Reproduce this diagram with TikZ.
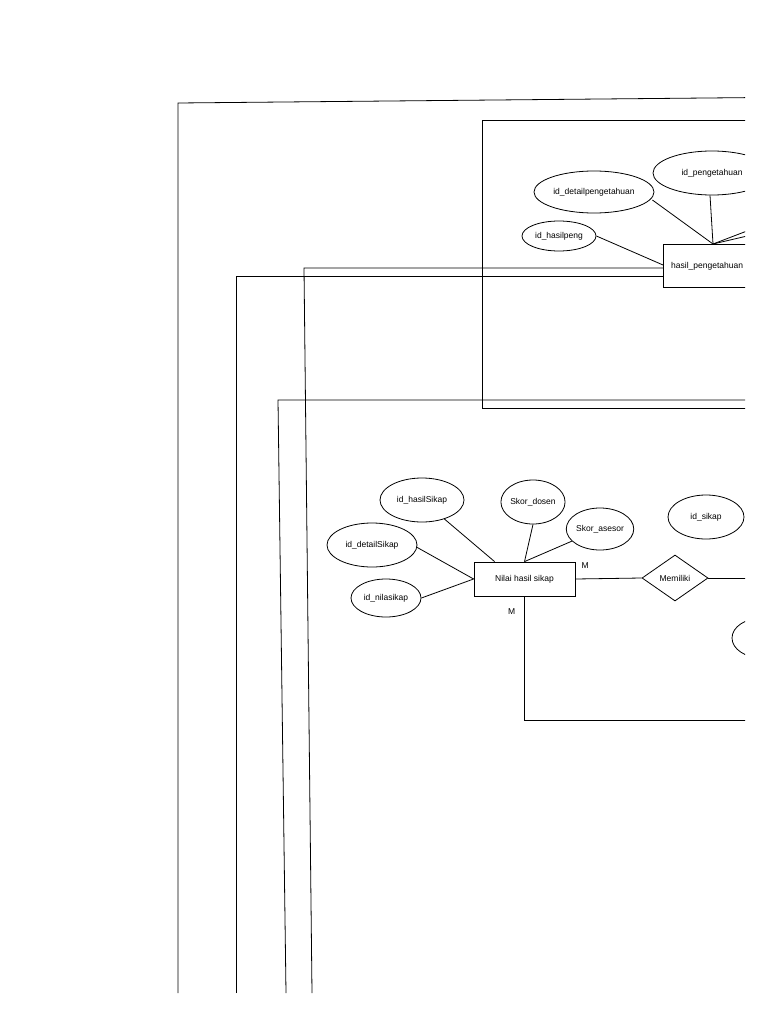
\documentclass[tikz,border=0pt]{standalone}
\usepackage{fontspec}
\setmainfont{Liberation Sans}
\usetikzlibrary{shapes.geometric,calc}
\begin{document}
\begin{tikzpicture}[x=1pt,y=-1pt,line width=0.8pt,
  attr/.style={draw,ellipse,inner sep=0pt,font=\fontsize{8.5}{10}\selectfont},
  ent/.style={draw,rectangle,inner sep=0pt,font=\fontsize{8.5}{10}\selectfont},
  rel/.style={draw,diamond,aspect=1.45,inner sep=1pt,font=\fontsize{8.5}{10}\selectfont},
  lbl/.style={font=\fontsize{8.5}{10}\selectfont}]
\useasboundingbox (0,0) rectangle (768,1024);
\begin{scope}
\clip (0,0) rectangle (745,993);
% frames
\draw (178,993) -- (178,103) -- (760,97.5);
\draw (482,408) -- (482,120) -- (760,120);
\draw (482,408) -- (760,408);
\draw (286,993) -- (278,400) -- (760,400);
% entity top
\node[ent,minimum width=100,minimum height=43,anchor=north west,text width=90,align=left] (hp) at (663,244) {\ hasil\_pengetahuan};
\node[attr,minimum width=118,minimum height=44] (ip) at (712,173) {id\_pengetahuan};
\node[attr,minimum width=120,minimum height=42] (idp) at (594,192) {id\_detailpengetahuan};
\node[attr,minimum width=74,minimum height=30] (ihp) at (559,236) {id\_hasilpeng};
\coordinate (hpt) at (713,244);
\coordinate (hpl) at (663,265);
\coordinate (r1) at (760,226);
\coordinate (r2) at (760,233);
\draw ($(ip.south)+(-2,0)$) -- (hpt);
\draw ($(idp.east)+(-2,8)$) -- (hpt);
\draw (ihp.east) -- (hpl);
\draw (hpt) -- (r1);
\draw (hpt) -- (r2);
\draw (236,993) -- (236,276) -- (hp.west |- 0,276);
\draw (312,993) -- (304,268) -- (hp.west |- 0,268);
% lower
\node[ent,minimum width=101,minimum height=34] (nhs) at (524.5,579) {Nilai hasil sikap};
\node[attr,minimum width=84,minimum height=44] (ihs) at (422,500) {id\_hasilSikap};
\node[attr,minimum width=62,minimum height=44] (sd) at (533,502) {Skor\_dosen};
\node[attr,minimum width=66,minimum height=42] (sa) at (600,529) {Skor\_asesor};
\node[attr,minimum width=90,minimum height=44] (ids) at (372,545) {id\_detailSikap};
\node[attr,minimum width=70,minimum height=38] (ins) at (386,598) {id\_nilasikap};
\node[attr,minimum width=76,minimum height=44] (isk) at (706,517) {id\_sikap};
\node[rel,minimum width=66,minimum height=46] (mem) at (675,578) {Memiliki};
\node[attr,minimum width=60,minimum height=40] (pe) at (762,638) {};
\draw (ihs) -- ($(nhs.north west)+(21,0)$);
\draw (sd.south) -- (nhs.north);
\draw (sa) -- (nhs.north);
\draw ($(ids.east)+(-1,2)$) -- (nhs.west);
\draw (ins.east) -- (nhs.west);
\draw (nhs.east) -- (mem.west);
\coordinate (mr) at (760,578);
\draw (mem.east) -- (mr);
\coordinate (bl) at (760,720);
\draw (nhs.south) -- (nhs.south |- bl) -- (bl);
\node[lbl,anchor=south west] (m1) at (578,572) {M};
\node[lbl,anchor=north east] (m2) at (519,605) {M};
\end{scope}
\end{tikzpicture}
\end{document}
